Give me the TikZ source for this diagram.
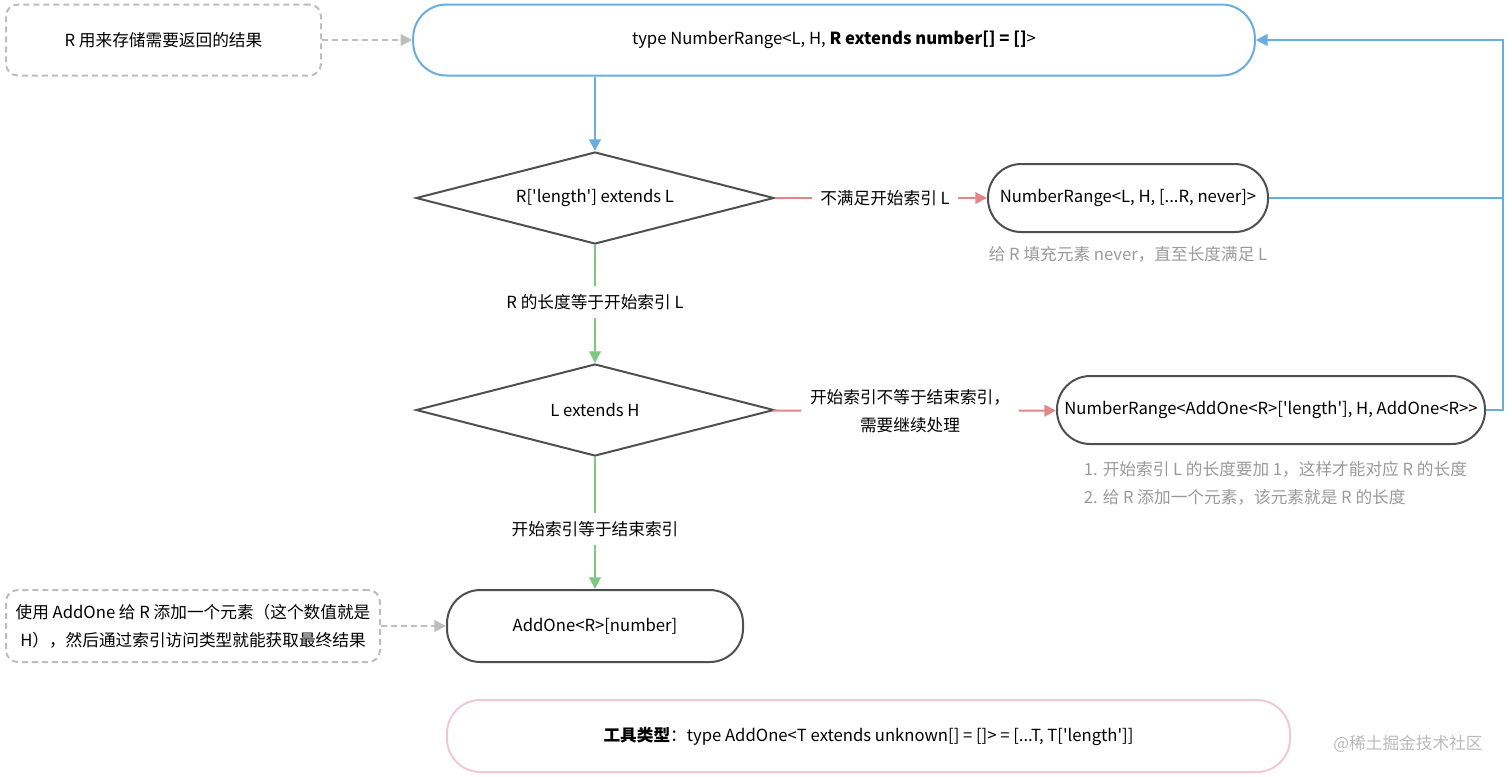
\documentclass[tikz,border=0pt]{standalone}
\usepackage{fontspec}
\newfontfamily\hei{Noto Sans CJK SC}
\usetikzlibrary{shapes.geometric, arrows.meta}
\definecolor{lineblue}{HTML}{69ADDF}
\definecolor{linered}{HTML}{E28787}
\definecolor{linegreen}{HTML}{7EC882}
\definecolor{boxgray}{HTML}{4F4F4F}
\definecolor{notegray}{HTML}{BDBDBD}
\definecolor{hintgray}{HTML}{9A9A9A}
\definecolor{toolpink}{HTML}{F0C9D5}
\tikzstyle{typedef} = [rectangle, rounded corners = 20pt, minimum width = 505pt, minimum height = 42.6pt, text centered, draw = lineblue, line width = 1.2pt]
\tikzstyle{process} = [rectangle, rounded corners = 20pt, minimum height = 40.8pt, text centered, draw = boxgray, line width = 1.2pt]
\tikzstyle{decision} = [diamond, aspect = 3.9, minimum width = 214.8pt, minimum height = 55.2pt, inner sep = 0pt, text centered, draw = boxgray, line width = 1.2pt]
\tikzstyle{note} = [rectangle, rounded corners = 7pt, minimum height = 42.6pt, align = center, draw = notegray, line width = 1.2pt, dash pattern = on 3.6pt off 2.4pt]
\tikzstyle{edgetext} = [inner sep = 5pt, align = center]
\tikzstyle{hint} = [text = hintgray]
\tikzstyle{bluearrow} = [draw = lineblue, line width = 1.2pt, -{Triangle[length = 7pt, width = 7pt]}]
\tikzstyle{blueline} = [draw = lineblue, line width = 1.2pt]
\tikzstyle{redarrow} = [draw = linered, line width = 1.2pt, -{Triangle[length = 7pt, width = 7pt]}]
\tikzstyle{redline} = [draw = linered, line width = 1.2pt]
\tikzstyle{greenarrow} = [draw = linegreen, line width = 1.2pt, -{Triangle[length = 7pt, width = 7pt]}]
\tikzstyle{greenline} = [draw = linegreen, line width = 1.2pt]
\tikzstyle{notearrow} = [draw = notegray, line width = 1.2pt, dash pattern = on 3.6pt off 2.4pt, -{Triangle[length = 7pt, width = 7pt]}]
\begin{document}
\begin{tikzpicture}[x = 0.6pt, y = -0.6pt, font = \hei\fontsize{10}{16.8}\selectfont]
    \useasboundingbox (0,0) rectangle (1512,776);

    \node(range)[typedef] at (834,40){type NumberRange<L, H, \textbf{R extends number[] = []}>};
    \node(note1)[note, minimum width = 189pt] at (163.5,40){R 用来存储需要返回的结果};
    \node(cond1)[decision] at (595,198){R['length'] extends L};
    \node(miss)[edgetext] at (885,198){不满足开始索引 L};
    \node(fill)[process, minimum width = 168pt] at (1128,198){NumberRange<L, H, [...R, never]>};
    \node(fillhint)[hint] at (1128,254){给 R 填充元素 never，直至长度满足 L};
    \node(hit)[edgetext] at (595,302){R 的长度等于开始索引 L};
    \node(cond2)[decision] at (595,410){L extends H};
    \node(next)[edgetext] at (910,411){开始索引不等于结束索引，\\需要继续处理};
    \node(step)[process, minimum width = 256.8pt] at (1271,410){NumberRange<AddOne<R>['length'], H, AddOne<R>>};
    \node(stephint1)[hint, anchor = west] at (1078,469){1. 开始索引 L 的长度要加 1，这样才能对应 R 的长度};
    \node(stephint2)[hint, anchor = west] at (1078,497){2. 给 R 添加一个元素，该元素就是 R 的长度};
    \node(same)[edgetext] at (595,529){开始索引等于结束索引};
    \node(result)[process, minimum width = 177.6pt, minimum height = 43.2pt] at (595,626){AddOne<R>[number]};
    \node(note2)[note, minimum width = 224.4pt, minimum height = 43.2pt] at (193,626){使用 AddOne 给 R 添加一个元素（这个数值就是\\H），然后通过索引访问类型就能获取最终结果};
    \node(tool)[process, draw = toolpink, minimum width = 505.8pt, minimum height = 43.2pt] at (868.5,736){\textbf{工具类型}：type AddOne<T extends unknown[] = []> = [...T, T['length']]};
    \node(mark)[text = gray!55] at (1408,744){@稀土掘金技术社区};
    \coordinate(loop) at (1503,40);

    \draw[notearrow](note1)--(range);
    \draw[bluearrow](cond1 |- range.south)--(cond1);
    \draw[redline](cond1)--(miss);
    \draw[redarrow](miss)--(fill);
    \draw[blueline](fill)--(fill -| loop);
    \draw[bluearrow](step.east)--(step.east -| loop)|-(range.east);
    \draw[greenline](cond1)--(hit);
    \draw[greenarrow](hit)--(cond2);
    \draw[redline](cond2)--(next);
    \draw[redarrow](next)--(step);
    \draw[greenline](cond2)--(same);
    \draw[greenarrow](same)--(result);
    \draw[notearrow](note2)--(result);
\end{tikzpicture}
\end{document}
